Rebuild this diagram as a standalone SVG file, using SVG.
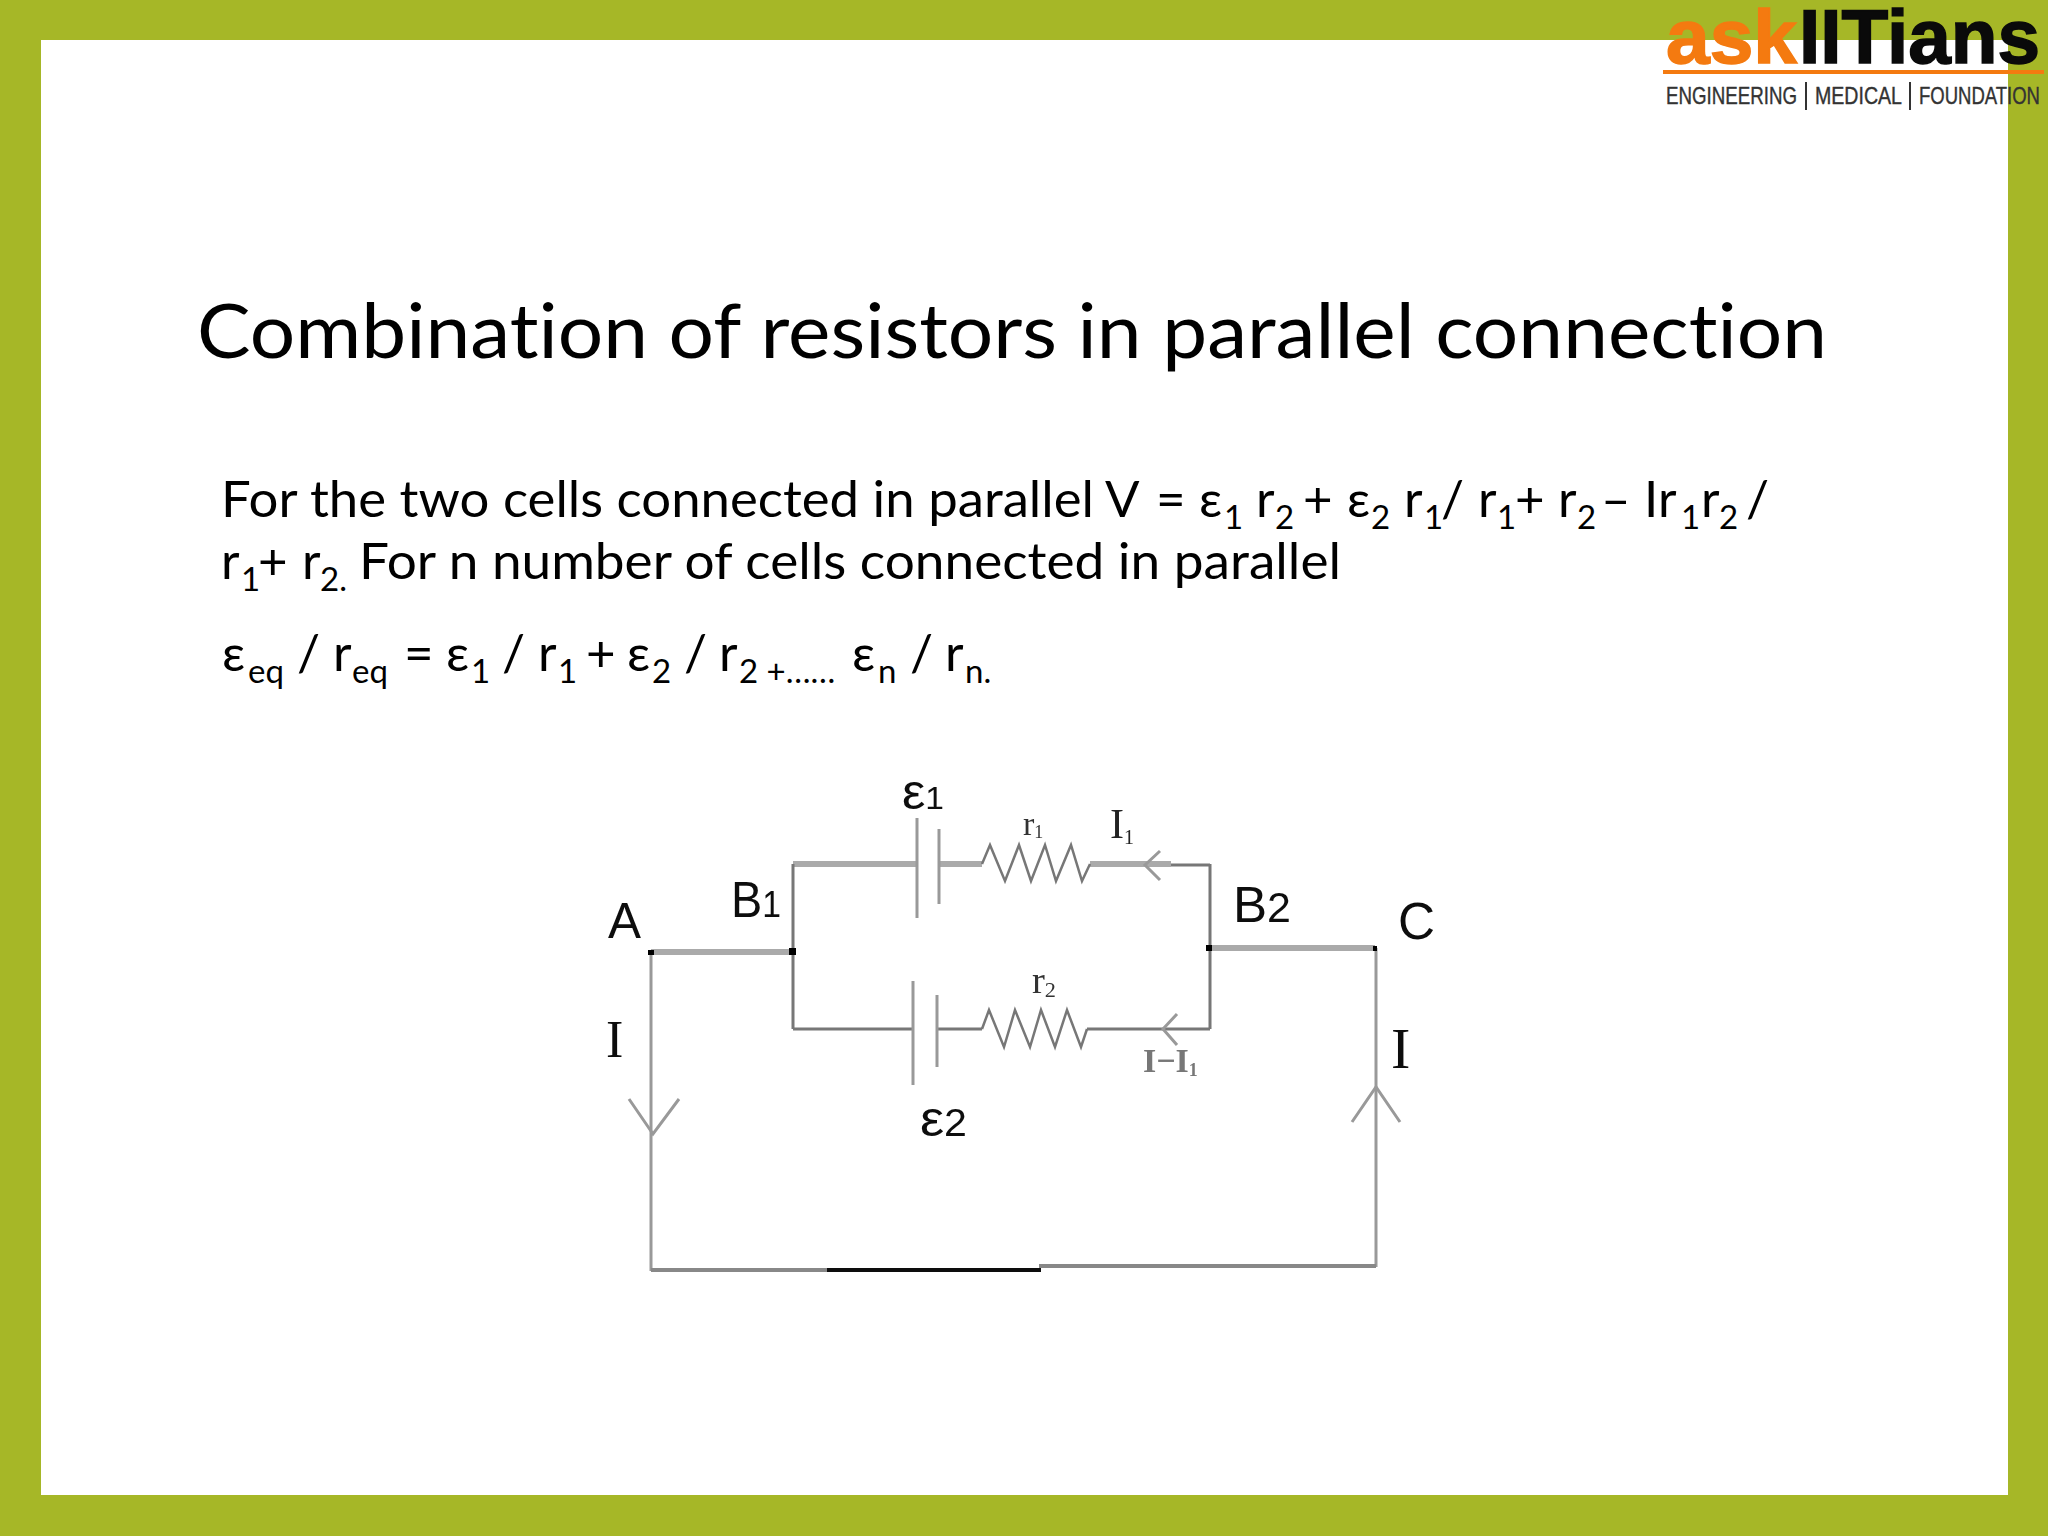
<svg xmlns="http://www.w3.org/2000/svg" width="2048" height="1536" viewBox="0 0 2048 1536">
<defs>
<style>
.t{font-family:"Lato","Liberation Sans",sans-serif;fill:#000;font-variant-ligatures:none}
.b{font-size:51px}
.s{font-size:33px}
.w{fill:none;stroke:#777;stroke-width:3}
.th{fill:none;stroke:#aaa;stroke-width:6}
.l{fill:none;stroke:#999;stroke-width:3}
.lab{font-family:"Liberation Sans",sans-serif;fill:#111}
.ser{font-family:"Liberation Serif",serif;fill:#333}
.j{fill:#000}
.logo{font-family:"Liberation Sans",sans-serif;font-weight:700;font-size:76px}
</style>
<filter id="soft" x="-5%" y="-5%" width="110%" height="110%"><feGaussianBlur stdDeviation="0.7"/></filter>
</defs>
<rect id="bg" width="2048" height="1536" fill="#a6b727"/>
<rect id="page" x="41" y="40" width="1967" height="1455" fill="#fff"/>
<g id="logo">
<text class="logo" x="1666" y="63" fill="#f47a10" stroke="#f47a10" stroke-width="1.5" textLength="131" lengthAdjust="spacingAndGlyphs">ask</text>
<text class="logo" x="1799" y="63" fill="#0a0a0a" stroke="#0a0a0a" stroke-width="1.5" textLength="241" lengthAdjust="spacingAndGlyphs">IITians</text>
<rect x="1663" y="70" width="381" height="4" fill="#f47a10"/>
<g font-family="Liberation Sans,sans-serif" font-size="24" fill="#333" stroke="#333" stroke-width="0.4">
<text x="1666" y="104" textLength="131" lengthAdjust="spacingAndGlyphs">ENGINEERING</text>
<text x="1815" y="104" textLength="87" lengthAdjust="spacingAndGlyphs">MEDICAL</text>
<text x="1919" y="104" textLength="121" lengthAdjust="spacingAndGlyphs">FOUNDATION</text>
</g>
<path d="M1806 82V110M1910 82V110" stroke="#333" stroke-width="2"/>
</g>
<text id="title" class="t" x="197" y="358" font-size="76" textLength="1630" lengthAdjust="spacingAndGlyphs">Combination of resistors in parallel connection</text>
<g id="body">
<text class="t b" x="221" y="517" textLength="873" lengthAdjust="spacingAndGlyphs">For the two cells connected in parallel</text>
<text class="t b" y="517"><tspan x="1105">V</tspan><tspan x="1156">=</tspan><tspan x="1199">ε</tspan><tspan class="s" x="1224" dy="12">1</tspan><tspan x="1256" dy="-12">r</tspan><tspan class="s" x="1275" dy="12">2</tspan><tspan x="1303" dy="-12">+</tspan><tspan x="1347">ε</tspan><tspan class="s" x="1371" dy="12">2</tspan><tspan x="1404" dy="-12">r</tspan><tspan class="s" x="1424" dy="12">1</tspan><tspan x="1441" dy="-12">/</tspan><tspan x="1478">r</tspan><tspan class="s" x="1497" dy="12">1</tspan><tspan x="1515" dy="-12">+</tspan><tspan x="1558">r</tspan><tspan class="s" x="1577" dy="12">2</tspan><tspan x="1601" dy="-12">–</tspan><tspan x="1644">I</tspan><tspan x="1658">r</tspan><tspan class="s" x="1681" dy="12">1</tspan><tspan x="1701" dy="-12">r</tspan><tspan class="s" x="1719" dy="12">2</tspan><tspan x="1746" dy="-12">/</tspan></text>
<text class="t b" y="579"><tspan x="221">r</tspan><tspan class="s" x="241" dy="12">1</tspan><tspan x="258" dy="-12">+</tspan><tspan x="302">r</tspan><tspan class="s" x="320" dy="12">2.</tspan></text>
<text class="t b" x="359" y="579" textLength="982" lengthAdjust="spacingAndGlyphs">For n number of cells connected in parallel</text>
<text class="t b" y="671"><tspan x="222">ε</tspan><tspan class="s" x="248" dy="12">eq</tspan><tspan x="297" dy="-12">/</tspan><tspan x="333">r</tspan><tspan class="s" x="352" dy="12">eq</tspan><tspan x="404" dy="-12">=</tspan><tspan x="446">ε</tspan><tspan class="s" x="471" dy="12">1</tspan><tspan x="502" dy="-12">/</tspan><tspan x="538">r</tspan><tspan class="s" x="558" dy="12">1</tspan><tspan x="586" dy="-12">+</tspan><tspan x="627">ε</tspan><tspan class="s" x="652" dy="12">2</tspan><tspan x="684" dy="-12">/</tspan><tspan x="719">r</tspan><tspan class="s" x="739" dy="12">2 +……</tspan><tspan x="852" dy="-12">ε</tspan><tspan class="s" x="878" dy="12">n</tspan><tspan x="910" dy="-12">/</tspan><tspan x="945">r</tspan><tspan class="s" x="965" dy="12">n.</tspan></text>
</g>
<g id="connectors" filter="url(#soft)">
<path class="th" d="M793 864H917M939 864H982M1090 864H1171"/>
<path class="w" d="M793 864V1029M1210 864V1029M1171 865H1210"/>
<path class="w" d="M793 1029H913M937 1029H982M1087 1029H1210"/>
<path class="th" d="M651 952H793M1210 948H1375"/>
<path class="l" d="M651 952V1271M1376 948V1267"/>
<path class="l" d="M651 1270H827M1039 1266H1376" style="stroke-width:4;stroke:#888"/>
<path d="M827 1270H1041" stroke="#111" stroke-width="4" fill="none"/>
<path class="l" d="M1160 851L1145 865L1160 880"/>
<path class="l" d="M1177 1014L1163 1029L1177 1045"/>
<path class="l" d="M629 1099L653 1134L679 1099"/>
<path class="l" d="M1352 1122L1376 1087L1400 1122"/>
</g>
<g id="junctions">
<rect class="j" x="648" y="950" width="6" height="5"/>
<rect class="j" x="789" y="948" width="7" height="7"/>
<rect class="j" x="1206" y="945" width="6" height="6"/>
<rect class="j" x="1373" y="946" width="4" height="5"/>
</g>
<g id="cell1" filter="url(#soft)"><path class="l" d="M917 818V918M939 829V904"/><text class="lab" x="902" y="809" font-size="50" textLength="42" lengthAdjust="spacingAndGlyphs">ε<tspan font-size="32">1</tspan></text></g>
<g id="r1" filter="url(#soft)"><path class="w" d="M982 864L990 845L1005 881L1019 845L1031 881L1045 845L1056 881L1071 845L1082 881L1090 864" style="stroke-width:2.5"/><text class="ser" x="1023" y="835" font-size="34">r<tspan font-size="18" dy="3">1</tspan></text></g>
<g id="cell2" filter="url(#soft)"><path class="l" d="M913 981V1085M937 995V1067"/><text class="lab" x="920" y="1136" font-size="50" textLength="47" lengthAdjust="spacingAndGlyphs">ε<tspan font-size="38">2</tspan></text></g>
<g id="r2" filter="url(#soft)"><path class="w" d="M982 1029L989 1010L1004 1047L1015 1010L1030 1047L1041 1010L1055 1047L1067 1010L1081 1047L1087 1029" style="stroke-width:2.5"/><text class="ser" x="1032" y="993" font-size="38" textLength="24" lengthAdjust="spacingAndGlyphs">r<tspan font-size="22" dy="4">2</tspan></text></g>
<g id="labels" filter="url(#soft)">
<text class="lab" x="608" y="938" font-size="50" textLength="33" lengthAdjust="spacingAndGlyphs">A</text>
<text class="lab" x="731" y="917" font-size="50" textLength="50" lengthAdjust="spacingAndGlyphs">B<tspan font-size="36">1</tspan></text>
<text class="lab" x="1233" y="922" font-size="50" textLength="58" lengthAdjust="spacingAndGlyphs">B<tspan font-size="42">2</tspan></text>
<text class="lab" x="1398" y="939" font-size="52" textLength="37" lengthAdjust="spacingAndGlyphs">C</text>
<text class="ser" x="606" y="1057" font-size="52" style="fill:#111">I</text>
<text class="ser" x="1391" y="1068" font-size="58" style="fill:#111">I</text>
<text class="ser" x="1110" y="838" font-size="42" style="fill:#222">I<tspan font-size="20" dy="6">1</tspan></text>
<text class="ser" x="1143" y="1072" font-size="34" font-weight="700" style="fill:#777">I−I<tspan font-size="18" dy="4">1</tspan></text>
</g>
</svg>
